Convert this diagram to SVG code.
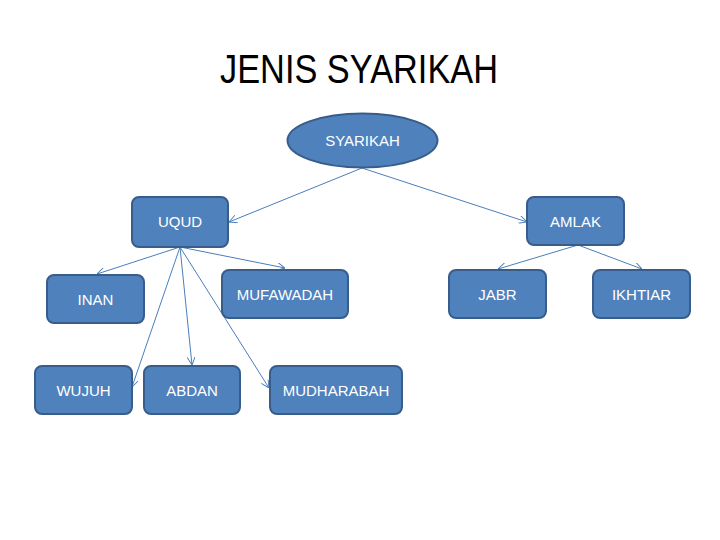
<svg xmlns="http://www.w3.org/2000/svg" width="720" height="540" viewBox="0 0 720 540">
<style>
.n{fill:#4F81BD;stroke:#385D8A;stroke-width:2}
.t{font-family:"Liberation Sans",Arial,sans-serif;font-size:15px;fill:#FFFFFF;text-anchor:middle}
.c{stroke:#4A7EBB;stroke-width:1;fill:none;marker-end:url(#a)}
</style>
<defs>
<marker id="a" viewBox="0 0 10 10" refX="10" refY="5" markerWidth="8" markerHeight="8" markerUnits="userSpaceOnUse" orient="auto">
<path d="M0,0 L10,5 L0,10" fill="none" stroke="#4A7EBB" stroke-width="1.2"/>
</marker>
</defs>
<rect width="720" height="540" fill="#FFFFFF"/>
<text x="359" y="83" font-family="Liberation Sans,Arial,sans-serif" font-size="40" textLength="278" lengthAdjust="spacingAndGlyphs" text-anchor="middle" fill="#000000">JENIS SYARIKAH</text>
<g id="connectors">
<line class="c" x1="362" y1="168" x2="229" y2="222"/>
<line class="c" x1="362" y1="168" x2="527" y2="222"/>
<line class="c" x1="180" y1="247" x2="97" y2="274"/>
<line class="c" x1="180" y1="247" x2="285" y2="268"/>
<line class="c" x1="180" y1="247" x2="132" y2="387"/>
<line class="c" x1="180" y1="247" x2="192" y2="365"/>
<line class="c" x1="180" y1="247" x2="269" y2="388"/>
<line class="c" x1="578" y1="245" x2="498" y2="269"/>
<line class="c" x1="578" y1="245" x2="642" y2="269"/>
</g>
<g id="syarikah"><ellipse class="n" cx="362.5" cy="140.5" rx="75" ry="27"/><text class="t" x="362.5" y="146">SYARIKAH</text></g>
<g id="uqud"><rect class="n" x="132" y="197" width="96" height="50" rx="7"/><text class="t" x="180" y="227">UQUD</text></g>
<g id="amlak"><rect class="n" x="527" y="197" width="97" height="48" rx="7"/><text class="t" x="575.5" y="227">AMLAK</text></g>
<g id="inan"><rect class="n" x="47" y="275" width="97" height="48" rx="7"/><text class="t" x="95.5" y="305">INAN</text></g>
<g id="mufawadah"><rect class="n" x="222" y="270" width="126" height="48" rx="7"/><text class="t" x="285" y="300">MUFAWADAH</text></g>
<g id="jabr"><rect class="n" x="449" y="270" width="97" height="48" rx="7"/><text class="t" x="497.5" y="300">JABR</text></g>
<g id="ikhtiar"><rect class="n" x="593" y="270" width="97" height="48" rx="7"/><text class="t" x="641.5" y="300">IKHTIAR</text></g>
<g id="wujuh"><rect class="n" x="35" y="366" width="97" height="48" rx="7"/><text class="t" x="83.5" y="396">WUJUH</text></g>
<g id="abdan"><rect class="n" x="144" y="366" width="96" height="48" rx="7"/><text class="t" x="192" y="396">ABDAN</text></g>
<g id="mudharabah"><rect class="n" x="270" y="366" width="132" height="48" rx="7"/><text class="t" x="336" y="396">MUDHARABAH</text></g>
</svg>
